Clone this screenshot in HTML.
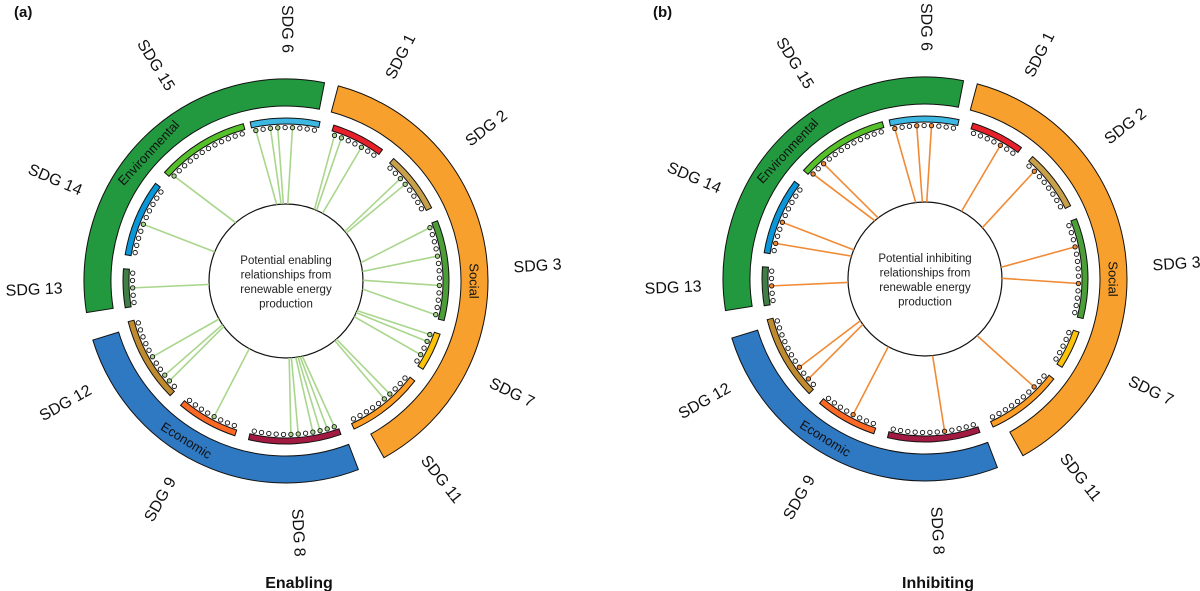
<!DOCTYPE html>
<html><head><meta charset="utf-8"><style>
html,body{margin:0;padding:0;background:#fff;}
svg{display:block;font-family:"Liberation Sans",sans-serif;}
</style></head><body>
<svg id="chart" width="1200" height="591" viewBox="0 0 1200 591"></svg>
<script>
const sdgNames = ["SDG 6","SDG 1","SDG 2","SDG 3","SDG 7","SDG 11","SDG 8","SDG 9","SDG 12","SDG 13","SDG 14","SDG 15"];
const sdgTargets = [9,7,8,13,5,10,12,8,11,5,10,12];
const sdgColors = ["#3cb8e2","#e8202a","#c9a04a","#4c9f38","#fcc30b","#fd9d24","#a21942","#fd6925","#bf8b2e","#3f7e44","#0a97d9","#56c02b"];
const enablingLinks = [[0,2,3,5],[0,1,4],[2,3],[0,4,8,12],[0,1,3],[3,4],[0,1,2,3,5,6],[3],[1,2,5],[2],[4],[0]];
const inhibitingLinks = [[0,3,5],[4],[1],[3,8],[],[2],[4],[3],[1,3],[2],[1,4],[0,2]];
const groupNames = ["Social","Economic","Environmental"];
const groupStart = [15,159,261];
const groupEnd = [151,253,371];
const groupColors = ["#f7a02d","#2f78c2","#22983f"];
const panelTitles = ["Enabling","Inhibiting"];
const panelTags = ["(a)","(b)"];
const centerTexts = [["Potential enabling","relationships from","renewable energy","production"],["Potential inhibiting","relationships from","renewable energy","production"]];

const NS="http://www.w3.org/2000/svg";
const svg=document.getElementById('chart');
function mk(tag,attrs,parent){const e=document.createElementNS(NS,tag);for(const k in attrs)e.setAttribute(k,attrs[k]);(parent||svg).appendChild(e);return e;}
const STEP=2.75, GAP=5, START=-12.7;
function pt(cx,cy,r,a){const t=a*Math.PI/180;return [cx+r*Math.sin(t),cy-r*Math.cos(t)];}
function arcPath(cx,cy,r1,r2,a1,a2){
  const p1=pt(cx,cy,r2,a1),p2=pt(cx,cy,r2,a2),p3=pt(cx,cy,r1,a2),p4=pt(cx,cy,r1,a1);
  const lg=(a2-a1)>180?1:0;
  return `M${p1[0]},${p1[1]} A${r2},${r2} 0 ${lg} 1 ${p2[0]},${p2[1]} L${p3[0]},${p3[1]} A${r1},${r1} 0 ${lg} 0 ${p4[0]},${p4[1]} Z`;
}
function sectorStarts(){const s=[];let a=START;for(let i=0;i<sdgTargets.length;i++){s.push(a);a+=sdgTargets[i]*STEP+GAP;}return s;}

function drawPanel(p,cx,cy,links,lineColor,fillColor){
  const g=mk('g',{});
  
  
  const tag=mk('text',{x:cx-272,y:17,'font-size':15,'font-weight':'bold',fill:'#111'},g);
  tag.textContent=panelTags[p];
  
  
  // group ring
  for(let i=0;i<groupNames.length;i++){
    const pa=mk('path',{d:arcPath(cx,cy,175,202,groupStart[i],groupEnd[i]),fill:groupColors[i],stroke:'#111','stroke-width':1},g);
    
    
    let mid=[90,212,313][i];
    const q=pt(cx,cy,188,mid);
    const rot=i===1?mid-180:mid;
    const t=mk('text',{x:q[0],y:q[1],'font-size':13,fill:'#111','text-anchor':'middle','dominant-baseline':'central',transform:`rotate(${rot} ${q[0]} ${q[1]})`},g);
    t.textContent=groupNames[i];
    
    
  }
  // inner circle
  const c=mk('circle',{cx:cx,cy:cy,r:77,fill:'#fff',stroke:'#111','stroke-width':1.2},g);
  
  
  centerTexts[p].forEach((s,k)=>{
    const t=mk('text',{x:cx,y:cy-17+k*14.5,'font-size':11.5,fill:'#222','text-anchor':'middle'},g);
    t.textContent=s;
    
    
  });
  const starts=sectorStarts();
  for(let i=0;i<sdgNames.length;i++){
    const a1=starts[i],a2=a1+sdgTargets[i]*STEP, mid=(a1+a2)/2;
    // links
    links[i].forEach(k=>{
      const a=a1+(k+0.5)*STEP;
      const b=mid+(a-mid)*0.6;
      const s=pt(cx,cy,153,a),e=pt(cx,cy,77,b);
      const l=mk('line',{x1:s[0],y1:s[1],x2:e[0],y2:e[1],stroke:lineColor,'stroke-width':1.6},g);
      
      
    });
    const bar=mk('path',{d:arcPath(cx,cy,157,163,a1,a2),fill:sdgColors[i],stroke:'#111','stroke-width':1},g);
    
    
    for(let k=0;k<sdgTargets[i];k++){
      const a=a1+(k+0.5)*STEP;
      const d=pt(cx,cy,153.5,a);
      const linked=links[i].indexOf(k)>=0;
      const dot=mk('circle',{cx:d[0],cy:d[1],r:2.2,fill:linked?fillColor:'#fff',stroke:'#111','stroke-width':0.9},g);
      
      
    }
    const q=pt(cx,cy,252,mid+0.5);
    let nm=((mid%360)+360)%360;
    const rot=(nm>180)?nm-270:nm-90;
    const t=mk('text',{x:q[0],y:q[1],'font-size':16,fill:'#111','text-anchor':'middle','dominant-baseline':'central',transform:`rotate(${rot} ${q[0]} ${q[1]})`},g);
    t.textContent=sdgNames[i];
    
    
  }
  const tt=mk('text',{x:cx+13,y:588,'font-size':16,'font-weight':'bold',fill:'#111','text-anchor':'middle'},g);
  tt.textContent=panelTitles[p];
  
  
}
drawPanel(0,286,281,enablingLinks,'#a9d68c','#a9d68c');
drawPanel(1,925,279,inhibitingLinks,'#f08a35','#f08a35');
</script>
</body></html>
